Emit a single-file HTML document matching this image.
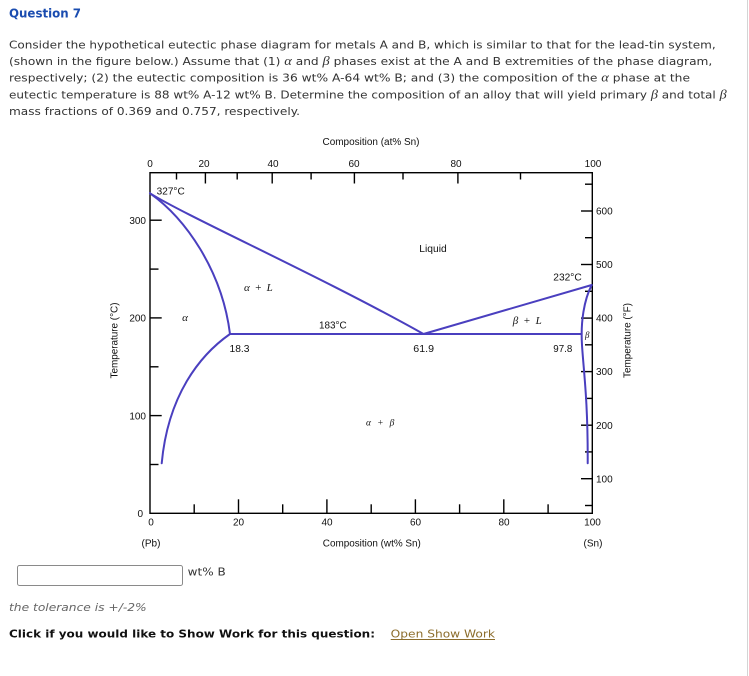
<!DOCTYPE html>
<html><head><meta charset="utf-8"><style>
html,body{margin:0;padding:0;background:#fff;}
svg{display:block;}
</style></head><body>
<svg width="749" height="676" viewBox="0 0 749 676" xmlns="http://www.w3.org/2000/svg">
<rect x="0" y="0" width="749" height="676" fill="#fff"/>
<line x1="747.5" y1="0" x2="747.5" y2="676" stroke="#d4d4d4" stroke-width="1"/>

<!-- Header -->
<text x="9" y="17.3" font-family="DejaVu Sans, Verdana, sans-serif" font-weight="bold" font-size="12" fill="#1a4cb0" textLength="72" lengthAdjust="spacingAndGlyphs">Question 7</text>

<g font-family="DejaVu Sans, Verdana, sans-serif" font-size="11" fill="#333">
<text x="9" y="48.3" textLength="706.7" lengthAdjust="spacingAndGlyphs">Consider the hypothetical eutectic phase diagram for metals A and B, which is similar to that for the lead-tin system,</text>
<text x="9" y="65" textLength="703.3" lengthAdjust="spacingAndGlyphs">(shown in the figure below.) Assume that (1) <tspan font-family="Liberation Serif, serif" font-style="italic" font-size="13">α</tspan> and <tspan font-family="Liberation Serif, serif" font-style="italic" font-size="13">β</tspan> phases exist at the A and B extremities of the phase diagram,</text>
<text x="9" y="81.7" textLength="681" lengthAdjust="spacingAndGlyphs">respectively; (2) the eutectic composition is 36 wt% A-64 wt% B; and (3) the composition of the <tspan font-family="Liberation Serif, serif" font-style="italic" font-size="13">α</tspan> phase at the</text>
<text x="9" y="98.3" textLength="717.7" lengthAdjust="spacingAndGlyphs">eutectic temperature is 88 wt% A-12 wt% B. Determine the composition of an alloy that will yield primary <tspan font-family="Liberation Serif, serif" font-style="italic" font-size="13">β</tspan> and total <tspan font-family="Liberation Serif, serif" font-style="italic" font-size="13">β</tspan></text>
<text x="9" y="115" textLength="291" lengthAdjust="spacingAndGlyphs">mass fractions of 0.369 and 0.757, respectively.</text>
</g>

<!-- Chart -->
<g font-family="Liberation Sans, Arial, sans-serif" font-size="10" fill="#111">
<text x="371" y="145" text-anchor="middle" textLength="97" lengthAdjust="spacingAndGlyphs">Composition (at% Sn)</text>
<text x="150" y="167" text-anchor="middle">0</text>
<text x="204" y="167" text-anchor="middle">20</text>
<text x="273" y="167" text-anchor="middle">40</text>
<text x="354" y="167" text-anchor="middle">60</text>
<text x="456" y="167" text-anchor="middle">80</text>
<text x="593" y="167" text-anchor="middle">100</text>

<text x="146" y="224" text-anchor="end">300</text>
<text x="146" y="321.5" text-anchor="end">200</text>
<text x="146" y="419.5" text-anchor="end">100</text>
<text x="143" y="517" text-anchor="end">0</text>

<text x="596" y="214.6">600</text>
<text x="596" y="268.1">500</text>
<text x="596" y="321.7">400</text>
<text x="596" y="375.2">300</text>
<text x="596" y="428.8">200</text>
<text x="596" y="482.3">100</text>

<text x="151" y="525.3" text-anchor="middle">0</text>
<text x="238.5" y="525.3" text-anchor="middle">20</text>
<text x="327" y="525.3" text-anchor="middle">40</text>
<text x="415.5" y="525.3" text-anchor="middle">60</text>
<text x="504" y="525.3" text-anchor="middle">80</text>
<text x="592.5" y="525.3" text-anchor="middle">100</text>
<text x="151" y="546.3" text-anchor="middle">(Pb)</text>
<text x="593" y="546.3" text-anchor="middle">(Sn)</text>
<text x="371.8" y="546.3" text-anchor="middle" textLength="98" lengthAdjust="spacingAndGlyphs">Composition (wt% Sn)</text>

<text transform="translate(117.6,340.5) rotate(-90)" text-anchor="middle" textLength="76" lengthAdjust="spacingAndGlyphs">Temperature (°C)</text>
<text transform="translate(630.3,340.5) rotate(-90)" text-anchor="middle" textLength="75" lengthAdjust="spacingAndGlyphs">Temperature (°F)</text>

<text x="156.7" y="194.6" textLength="28" lengthAdjust="spacingAndGlyphs">327°C</text>
<text x="319" y="328.6" textLength="27.7" lengthAdjust="spacingAndGlyphs">183°C</text>
<text x="229.5" y="352" textLength="20" lengthAdjust="spacingAndGlyphs">18.3</text>
<text x="419.3" y="252" textLength="27.4" lengthAdjust="spacingAndGlyphs">Liquid</text>
<text x="553.3" y="280.3" textLength="28.4" lengthAdjust="spacingAndGlyphs">232°C</text>
<text x="413.3" y="352" textLength="20.7" lengthAdjust="spacingAndGlyphs">61.9</text>
<text x="553.3" y="352" textLength="19" lengthAdjust="spacingAndGlyphs">97.8</text>
</g>

<g font-family="Liberation Serif, serif" font-style="italic" fill="#111">
<text x="244" y="291" font-size="11" textLength="28.7" lengthAdjust="spacing">α + L</text>
<text x="185" y="321" font-size="11" text-anchor="middle">α</text>
<text x="512.7" y="324" font-size="11" textLength="29" lengthAdjust="spacing">β + L</text>
<text x="366" y="425.5" font-size="9.5" textLength="28.3" lengthAdjust="spacing">α + β</text>
<text x="587.3" y="338" font-size="9" text-anchor="middle">β</text>
</g>

<!-- Frame -->
<rect x="150" y="172.7" width="442.3" height="340.6" fill="none" stroke="#000" stroke-width="1.4"/>

<g stroke="#000" stroke-width="1.4">
<line x1="176.5" y1="172.7" x2="176.5" y2="179.5"/>
<line x1="205.4" y1="172.7" x2="205.4" y2="183.5"/>
<line x1="237.2" y1="172.7" x2="237.2" y2="179.5"/>
<line x1="272.2" y1="172.7" x2="272.2" y2="183.5"/>
<line x1="311.1" y1="172.7" x2="311.1" y2="179.5"/>
<line x1="354.4" y1="172.7" x2="354.4" y2="183.5"/>
<line x1="403" y1="172.7" x2="403" y2="179.5"/>
<line x1="457.9" y1="172.7" x2="457.9" y2="183.5"/>
<line x1="520.5" y1="172.7" x2="520.5" y2="179.5"/>
<line x1="194.2" y1="513.3" x2="194.2" y2="504.3"/>
<line x1="238.5" y1="513.3" x2="238.5" y2="499.3"/>
<line x1="282.7" y1="513.3" x2="282.7" y2="504.3"/>
<line x1="326.9" y1="513.3" x2="326.9" y2="499.3"/>
<line x1="371.2" y1="513.3" x2="371.2" y2="504.3"/>
<line x1="415.4" y1="513.3" x2="415.4" y2="499.3"/>
<line x1="459.6" y1="513.3" x2="459.6" y2="504.3"/>
<line x1="503.8" y1="513.3" x2="503.8" y2="499.3"/>
<line x1="548.1" y1="513.3" x2="548.1" y2="504.3"/>
<line x1="150" y1="464.5" x2="158.5" y2="464.5"/>
<line x1="150" y1="415.6" x2="161.7" y2="415.6"/>
<line x1="150" y1="366.8" x2="158.5" y2="366.8"/>
<line x1="150" y1="317.9" x2="161.7" y2="317.9"/>
<line x1="150" y1="269.1" x2="158.5" y2="269.1"/>
<line x1="150" y1="220.2" x2="161.7" y2="220.2"/>
<line x1="592.3" y1="505.5" x2="585" y2="505.5"/>
<line x1="592.3" y1="478.7" x2="581" y2="478.7"/>
<line x1="592.3" y1="451.9" x2="585" y2="451.9"/>
<line x1="592.3" y1="425.2" x2="581" y2="425.2"/>
<line x1="592.3" y1="398.4" x2="585" y2="398.4"/>
<line x1="592.3" y1="371.6" x2="581" y2="371.6"/>
<line x1="592.3" y1="344.8" x2="585" y2="344.8"/>
<line x1="592.3" y1="318.1" x2="581" y2="318.1"/>
<line x1="592.3" y1="291.3" x2="585" y2="291.3"/>
<line x1="592.3" y1="264.5" x2="581" y2="264.5"/>
<line x1="592.3" y1="237.7" x2="585" y2="237.7"/>
<line x1="592.3" y1="211" x2="581" y2="211"/>
<line x1="592.3" y1="184.2" x2="585" y2="184.2"/>
</g>

<!-- Phase boundaries -->
<g fill="none" stroke="#4a3fbf" stroke-width="2" stroke-linejoin="round" stroke-linecap="round">
<path d="M150,193.3 C190,218 320,276 423.5,334"/>
<path d="M423.5,334 L591.7,285"/>
<path d="M150,193.3 C185,218 222,270 230,334"/>
<path d="M230,334 C200,355 168,395 161.7,463.3"/>
<path d="M230,334 L581.7,334"/>
<path d="M591.7,285 C584,300 580.5,322 582,345 C583.5,370 588,400 587.7,463.3"/>
</g>

<!-- Bottom form -->
<rect x="17.5" y="565.5" width="165" height="20" rx="2" ry="2" fill="#fff" stroke="#8a8a8a" stroke-width="1"/>
<text x="187.7" y="575.5" font-family="DejaVu Sans, Verdana, sans-serif" font-size="11" fill="#333" textLength="38" lengthAdjust="spacingAndGlyphs">wt% B</text>
<text x="9" y="611" font-family="DejaVu Sans, Verdana, sans-serif" font-size="11" font-style="italic" fill="#666" textLength="137.7" lengthAdjust="spacingAndGlyphs">the tolerance is +/-2%</text>
<text x="9" y="637.3" font-family="DejaVu Sans, Verdana, sans-serif" font-size="11" font-weight="bold" fill="#111" textLength="366" lengthAdjust="spacingAndGlyphs">Click if you would like to Show Work for this question:</text>
<text x="390.7" y="637.3" font-family="DejaVu Sans, Verdana, sans-serif" font-size="11" fill="#8c6d2c" textLength="104.3" lengthAdjust="spacingAndGlyphs">Open Show Work</text>
<line x1="390.7" y1="639.5" x2="495" y2="639.5" stroke="#8c6d2c" stroke-width="1"/>
</svg>
</body></html>
